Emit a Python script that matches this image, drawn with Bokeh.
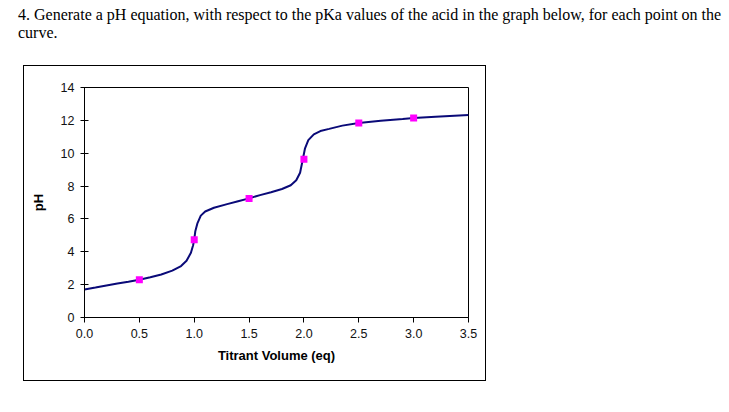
from bokeh.plotting import figure
from bokeh.models import Range1d, FixedTicker, PrintfTickFormatter, Div
from bokeh.layouts import column
from bokeh.embed import file_html
from bokeh.resources import INLINE

# Curve
curve_x = [0.00, 0.10, 0.20, 0.30, 0.40, 0.50, 0.60, 0.70, 0.80, 0.88, 0.93, 0.97, 0.99, 1.00,
           1.01, 1.03, 1.06, 1.10, 1.18, 1.30, 1.40, 1.50, 1.60, 1.70, 1.80, 1.88, 1.93, 1.965,
           1.99, 2.01, 2.04, 2.09, 2.15, 2.23, 2.35, 2.50, 2.70, 2.90, 3.00, 3.20, 3.50]
curve_ph = [1.70, 1.82, 1.95, 2.07, 2.18, 2.30, 2.45, 2.62, 2.85, 3.13, 3.45, 3.94, 4.40, 4.74,
            5.25, 5.75, 6.20, 6.45, 6.68, 6.90, 7.08, 7.25, 7.45, 7.62, 7.82, 8.05, 8.35, 8.81,
            9.63, 10.30, 10.80, 11.15, 11.35, 11.48, 11.68, 11.84, 11.98, 12.08, 12.14, 12.22, 12.32]

# Highlighted points
point_x = [0.5, 1.0, 1.5, 2.0, 2.5, 3.0]
point_ph = [2.30, 4.74, 7.25, 9.63, 11.84, 12.14]

x_ticks = [0.0, 0.5, 1.0, 1.5, 2.0, 2.5, 3.0, 3.5]
y_ticks = [0, 2, 4, 6, 8, 10, 12, 14]

title = Div(
    text="4. Generate a pH equation, with respect to the pKa values of the acid in the graph below, for each point on the<br>curve.",
    width=729, height=55, margin=(0, 0, 0, 0),
    styles={"font-family": "'Liberation Serif', 'Times New Roman', serif", "font-size": "16px",
            "line-height": "18px", "padding-left": "18px", "padding-top": "6px", "color": "#000",
            "white-space": "nowrap"},
)

p = figure(width=463, height=316, output_backend="svg", toolbar_location=None,
           x_range=Range1d(0, 3.5), y_range=Range1d(0, 14),
           min_border_left=60, min_border_right=19, min_border_top=21, min_border_bottom=65,
           margin=(10, 0, 0, 23))
p.styles = {"border": "1px solid black"}
p.background_fill_color = "white"
p.border_fill_color = "white"
p.outline_line_color = "black"
p.outline_line_width = 1
p.xgrid.visible = False
p.ygrid.visible = False

p.xaxis.ticker = FixedTicker(ticks=x_ticks)
p.xaxis.formatter = PrintfTickFormatter(format="%.1f")
p.yaxis.ticker = FixedTicker(ticks=y_ticks)
for ax in (p.xaxis[0], p.yaxis[0]):
    ax.axis_line_color = "black"
    ax.major_tick_line_color = "black"
    ax.minor_tick_line_color = None
    ax.major_label_text_font = "Liberation Sans"
    ax.major_label_text_font_size = "12.5px"
    ax.major_label_text_color = "#111111"
    ax.axis_label_text_font = "Liberation Sans"
    ax.axis_label_text_font_size = "13px"
    ax.axis_label_text_font_style = "bold"
    ax.axis_label_text_color = "black"
p.xaxis.major_tick_in = 0
p.xaxis.major_tick_out = 5
p.yaxis.major_tick_in = 4
p.yaxis.major_tick_out = 4
p.xaxis.major_label_standoff = 6
p.yaxis.major_label_standoff = 6
p.xaxis.axis_label = "Titrant Volume (eq)"
p.yaxis.axis_label = "pH"
p.xaxis.axis_label_standoff = 7
p.yaxis.axis_label_standoff = 12

p.line(curve_x, curve_ph, line_color="#0a0a78", line_width=2)
p.scatter(point_x, point_ph, marker="square", size=7, fill_color="#ff00ff", line_color=None)

layout = column(title, p, spacing=0)
open("out.html", "w").write(file_html(layout, INLINE))
